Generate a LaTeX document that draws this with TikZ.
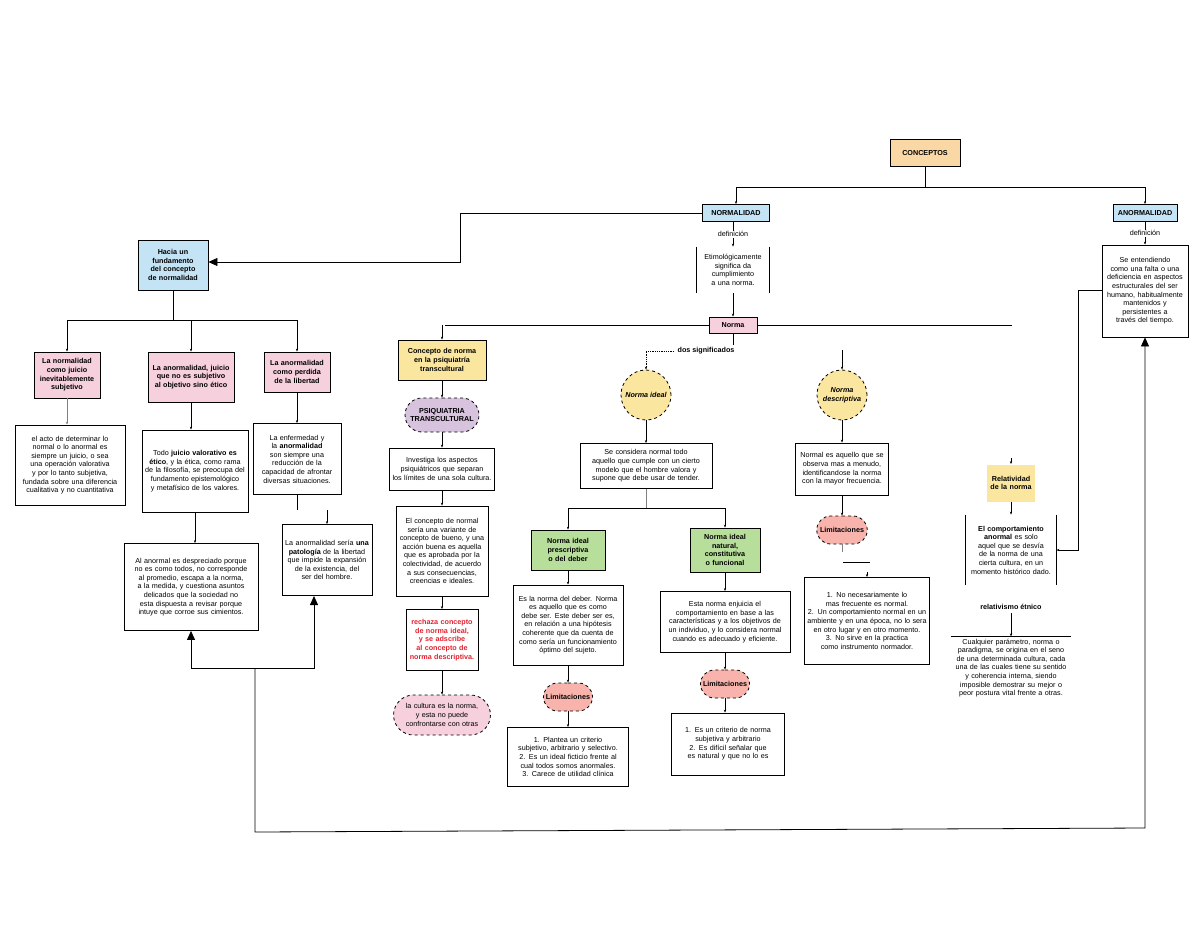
\documentclass[tikz,border=0pt]{standalone}
\usepackage{fontspec}
\setmainfont{Liberation Sans}
\usetikzlibrary{arrows.meta,shapes.geometric,shapes.misc}
\definecolor{cblue}{HTML}{C4E4F6}
\definecolor{cpink}{HTML}{F6D0DC}
\definecolor{corange}{HTML}{FAD8A6}
\definecolor{cyellow}{HTML}{FBE6A0}
\definecolor{cgreen}{HTML}{B7DE9A}
\definecolor{csalmon}{HTML}{F8B4AC}
\definecolor{cpurple}{HTML}{D8C3DE}
\definecolor{cred}{HTML}{E3202E}
\newcommand{\fs}{\fontsize{7.2}{8.6}\selectfont\hyphenpenalty=10000\exhyphenpenalty=10000}
\begin{document}
\begin{tikzpicture}[x=1pt,y=-1pt,
  font=\fs,
  box/.style={draw,thick,fill=white,align=center,inner sep=2pt},
  bx/.style={box,text width=#1},
  hd/.style={draw,thick,align=center,font=\fs\bfseries,inner sep=2pt},
  circ/.style={circle,draw,dashed,thick,fill=cyellow,minimum size=50pt,align=center,inner sep=0pt,font=\fs\bfseries\itshape},
  rnd/.style={rounded rectangle,draw,thick,dashed,align=center,inner sep=3pt},
  ar/.style={-{Stealth[length=3pt]},thick},
  big/.style={-{Triangle[length=9pt,width=8pt]},thick},
  ln/.style={thick}]
\newcommand{\va}[3][ar]{\draw[#1] (#2.south) -- (#2.south|-#3.north);}
\useasboundingbox (0,0) rectangle (1200,927);
% top
\node[hd,fill=corange,minimum width=70pt,minimum height=27pt] (con) at (925,153) {CONCEPTOS};
\node[hd,fill=cblue,minimum width=67pt,minimum height=17pt] (nor) at (736,213) {NORMALIDAD};
\node[hd,fill=cblue,minimum width=64pt,minimum height=17pt] (anor) at (1145,213) {ANORMALIDAD};
\draw[ln] (con.south) -- (925,187) -- (736,187);
\draw[ar] (736,187) -- (nor.north);
\draw[ar] (925,187) -- (1145,187) -- (anor.north);
% hacia
\node[hd,fill=cblue,text width=66pt,minimum height=50pt] (hac) at (173,265) {Hacia un fundamento del concepto de normalidad};
\draw[big] (nor.west) -- (460,213) -- (460,262) -- (hac.east|-0,262);
\node[hd,fill=cpink,text width=62pt,minimum height=46pt] (p1) at (67,375) {La normalidad como juicio inevitablemente subjetivo};
\node[hd,fill=cpink,text width=82pt,minimum height=50pt] (p2) at (191,377) {La anormalidad, juicio que no es subjetivo al objetivo sino ético};
\node[hd,fill=cpink,text width=62pt,minimum height=40pt] (p3) at (297,372) {La anormalidad como perdida de la libertad};
\draw[ln] (hac.south) -- (173,320);
\draw[ar] (67,320) -- (p1.north);
\draw[ar] (191,320) -- (p2.north);
\draw[ln] (67,320) -- (297,320);
\draw[ar] (297,320) -- (p3.north);
\node[bx=106pt,minimum height=80pt] (w1) at (70,465) {el acto de determinar lo normal o lo anormal es siempre un juicio, o sea una operación valorativa y por lo tanto subjetiva, fundada sobre una diferencia cualitativa y no cuantitativa};
\node[bx=102pt,minimum height=82pt] (w2) at (195,471) {Todo \textbf{juicio valorativo es ético}, y la ética, como rama de la filosofía, se preocupa del fundamento epistemológico y metafísico de los valores.};
\node[bx=84pt,minimum height=71pt] (w3) at (297,459) {La enfermedad y la \textbf{anormalidad} son siempre una reducción de la capacidad de afrontar diversas situaciones.};
\node[bx=130pt,minimum height=87pt] (w4) at (191,587) {Al anormal es despreciado porque no es como todos, no corresponde al promedio, escapa a la norma, a la medida, y cuestiona asuntos delicados que la sociedad no esta dispuesta a revisar porque intuye que corroe sus cimientos.};
\node[bx=86pt,minimum height=71pt] (w5) at (327,560) {La anormalidad sería \textbf{una patología} de la libertad que impide la expansión de la existencia, del ser del hombre.};
\va[ar,gray]{p1}{w1}
\va{p2}{w2}
\va{p3}{w3}
\draw[ar] (w2.south) -- (w2.south|-w4.north);
\draw[ln] (w3.south) -- (297,510);
\coordinate (s5) at (327,510);
\draw[ar] (s5) -- (w5.north);
% normalidad branch
\node[box,text width=68pt,draw=none,minimum height=46pt] (et) at (733,270) {Etimológicamente significa da cumplimiento a una norma.};
\draw[ln] (et.north west) -- (et.south west) (et.north east) -- (et.south east);
\draw[ar] (nor.south-|et.north) -- node[fill=white,inner sep=1pt]{definición} (et.north);
\node[hd,fill=cpink,minimum width=48pt,minimum height=16pt] (nm) at (733,325) {Norma};
\draw[ar] (et.south) -- (nm.north);
\draw[ln] (445,325) -- (nm.west) (nm.east) -- (1012,325);
\node[hd,fill=cyellow,text width=84pt,minimum height=40pt] (cn) at (442,360) {Concepto de norma en la psiquiatría transcultural};
\draw[ar] (442,325) -- (cn.north);
\node[rnd,fill=cpurple,minimum width=80pt,minimum height=34pt,font=\fs\bfseries] (ps) at (442,415) {PSIQUIATRIA\\TRANSCULTURAL};
\node[bx=101pt,minimum height=42pt] (b1) at (442,469) {Investiga los aspectos psiquiátricos que separan los límites de una sola cultura.};
\node[bx=88pt,minimum height=90pt] (b2) at (442,551) {El concepto de normal sería una variante de concepto de bueno, y una acción buena es aquella que es aprobada por la colectividad, de acuerdo a sus consecuencias, creencias e ideales.};
\node[bx=68pt,minimum height=61pt,text=cred,font=\fs\bfseries] (b3) at (442,640) {rechaza concepto de norma ideal, y se adscribe al concepto de norma descriptiva.};
\node[rnd,fill=cpink,text width=84pt,minimum height=40pt] (b4) at (442,715) {la cultura es la norma, y esta no puede confrontarse con otras};
\va{cn}{ps}
\va{ps}{b1}
\va{b1}{b2}
\va{b2}{b3}
\va{b3}{b4}
% dos significados
\node[font=\fs\bfseries] (dos) at (706,351) {dos significados};
\node[circ] (ni) at (646,395) {Norma ideal};
\node[circ] (nd) at (842,395) {Norma\\descriptiva};
\draw[ln] (nm.south) -- (733,345);
\draw[ar,densely dotted] (dos.west) -- (646,351) -- (ni.north);
\coordinate (s2) at (842,350);
\draw[ar] (s2) -- (nd.north);
\node[bx=128pt,minimum height=45pt] (ib) at (646,466) {Se considera normal todo aquello que cumple con un cierto modelo que el hombre valora y supone que debe usar de tender.};
\node[bx=89pt,minimum height=52pt] (db) at (842,469) {Normal es aquello que se observa mas a menudo, identificandose la norma con la mayor frecuencia.};
\va{ni}{ib}
\va{nd}{db}
\node[hd,fill=cgreen,text width=70pt,minimum height=40pt] (g1) at (568,550) {Norma ideal prescriptiva o del deber};
\node[hd,fill=cgreen,text width=66pt,minimum height=44pt] (g2) at (725,550) {Norma ideal natural, constitutiva o funcional};
\draw[ln,gray] (ib.south) -- (646,508);
\draw[ar] (646,508) -- (568,508) -- (g1.north);
\draw[ar] (646,508) -- (725,508) -- (g2.north);
\node[bx=106pt,minimum height=80pt] (g1b) at (568,625) {Es la norma del deber. Norma es aquello que es como debe ser. Este deber ser es, en relación a una hipótesis coherente que da cuenta de como sería un funcionamiento óptimo del sujeto.};
\node[rnd,fill=csalmon,minimum width=55pt,minimum height=28pt,font=\fs\bfseries] (l1) at (568,697) {Limitaciones};
\node[bx=117pt,minimum height=59pt] (l1b) at (568,757) {1. Plantea un criterio subjetivo, arbitrario y selectivo.\\2. Es un ideal ficticio frente al cual todos somos anormales.\\3. Carece de utilidad clínica};
\va{g1}{g1b}
\va{g1b}{l1}
\va{l1}{l1b}
\node[bx=126pt,minimum height=61pt] (g2b) at (725,622) {Esta norma enjuicia el comportamiento en base a las características y a los objetivos de un individuo, y lo considera normal cuando es adecuado y eficiente.};
\node[rnd,fill=csalmon,minimum width=55pt,minimum height=28pt,font=\fs\bfseries] (l2) at (725,684) {Limitaciones};
\node[bx=109pt,minimum height=62pt] (l2b) at (728,744) {1. Es un criterio de norma subjetiva y arbitrario\\2. Es difícil señalar que es natural y que no lo es};
\va{g2}{g2b}
\va{g2b}{l2}
\va{l2}{l2b}
\node[rnd,fill=csalmon,minimum width=50pt,minimum height=28pt,font=\fs\bfseries] (l3) at (842,530) {Limitaciones};
\node[bx=121pt,minimum height=87pt] (l3b) at (867,621) {1. No necesariamente lo mas frecuente es normal.\\2. Un comportamiento normal en un ambiente y en una época, no lo sera en otro lugar y en otro momento.\\3. No sirve en la practica como instrumento normador.};
\va{db}{l3}
\draw[ln,gray] (l3.south) -- (842,552);
\draw[ln] (843,562) -- (870,562);
\coordinate (s3) at (867,572);
\draw[ar] (s3) -- (l3b.north);
% anormalidad branch
\node[bx=82pt,minimum height=92pt] (ad) at (1145,291) {Se entendiendo como una falta o una deficiencia en aspectos estructurales del ser humano, habitualmente mantenidos y persistentes a través del tiempo.};
\draw[ar] (anor.south) -- node[fill=white,inner sep=1pt]{definición} (ad.north);
\node[hd,fill=cyellow,text width=44pt,minimum height=37pt,draw=none] (rel) at (1011,483) {Relatividad de la norma};
\coordinate (s4) at (1011,458);
\draw[ar] (s4) -- (rel.north);
\node[box,text width=86pt,draw=none,minimum height=70pt] (ec) at (1011,550) {\textbf{El comportamiento anormal} es solo aquel que se desvía de la norma de una cierta cultura, en un momento histórico dado.};
\draw[ln] (ec.north west) -- (ec.south west) (ec.north east) -- (ec.south east);
\draw[ar] (rel.south) -- (ec.north);
\draw[ar] (ad.west|-0,290) -- (1078,290) -- (1078,550) -- (ec.east);
\node[font=\fs\bfseries] (rele) at (1011,607) {relativismo étnico};
\node[box,text width=116pt,draw=none] (cq) at (1011,668) {Cualquier parámetro, norma o paradigma, se origina en el seno de una determinada cultura, cada una de las cuales tiene su sentido y coherencia interna, siendo imposible demostrar su mejor o peor postura vital frente a otras.};
\draw[ln] (cq.north west) -- (cq.north east);
\draw[ar] (rele.south) -- (cq.north);
% bottom loop
\coordinate (j1) at (255,668);
\draw[big] (j1) -- (191,668) -- (w4.south);
\draw[big] (j1) -- (314,668) -- (314,596);
\draw[big] (j1) -- (255,832) -- (1145,828) -- (ad.south);
\end{tikzpicture}
\end{document}
